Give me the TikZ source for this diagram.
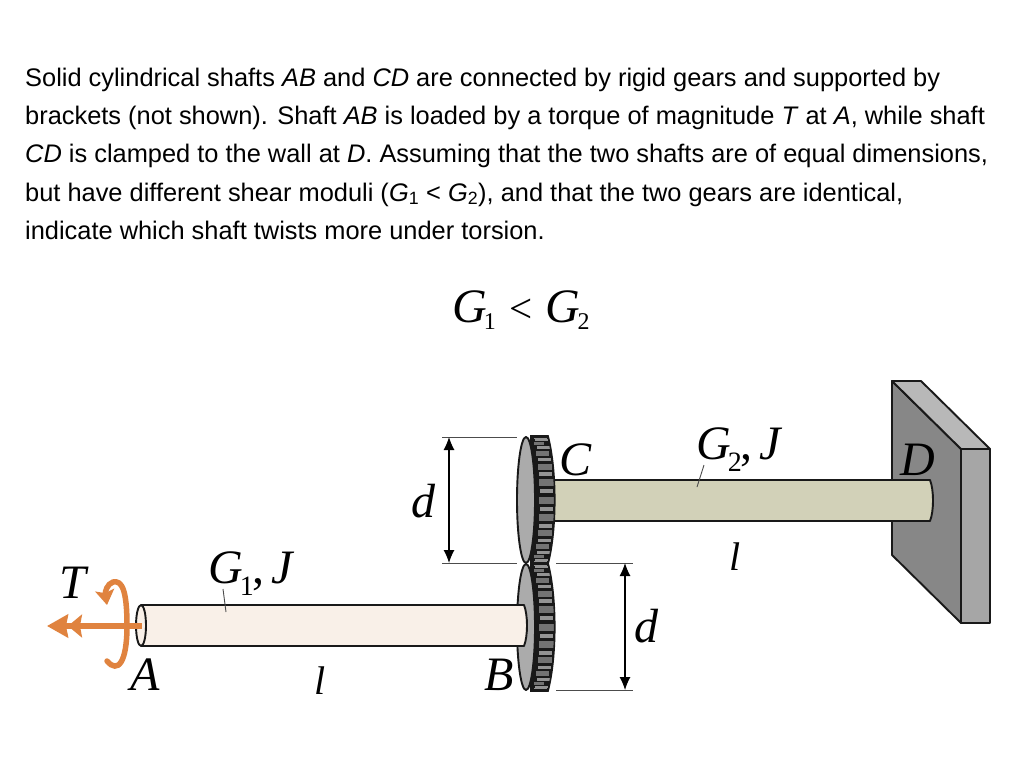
\documentclass[tikz,border=0pt]{standalone}
\usepackage{fontspec}
\setmainfont{Liberation Sans}
\newfontfamily\serifshape{Liberation Serif}
\usetikzlibrary{arrows.meta}

\definecolor{torque}{HTML}{E0833F}
\definecolor{shaftA}{HTML}{F9F0E8}
\definecolor{shaftC}{HTML}{D2D1B8}

% Symbols in the drawing: letter, subscript, subscript size, subscript drop
\newcommand{\sym}[1]{{\serifshape\itshape #1}}
\newcommand{\subsym}[4]{\sym{#1}\kern-3pt{\serifshape\fontsize{#3}{#3}\selectfont\raisebox{-#4}{#2}}}

\tikzset{
	bodytext/.style = {anchor = base west, inner sep = 0, font = \fontsize{25.4}{28}\selectfont},
	symbol/.style = {inner sep = 0, font = \fontsize{48}{48}\selectfont},
	lensymbol/.style = {inner sep = 0, font = \fontsize{40}{40}\selectfont},
	outline/.style = {draw = black!90, line width = 1.9pt, line join = round},
	thinline/.style = {draw = black!70, line width = 0.9pt},
	dimension/.style = {<->, >={Latex[length = 13pt, width = 11pt]}, line width = 1.1pt}
}

\begin{document}
\begin{tikzpicture}[x = 1pt, y = -1pt]

	% Definitions

	\def\gx{526}		% Centre of gear faces
	\def\gC{500}		% Height of gear C
	\def\gB{627}		% Height of gear B
	\def\gr{63}		% Gear radius

	\useasboundingbox (0, 0) rectangle (1024, 762);
	\fill [white] (0, 0) rectangle (1024, 762);

	% Statement

	\node [bodytext] (line1) at (25, 87) {Solid cylindrical shafts \textit{AB} and \textit{CD} are connected by rigid gears and supported by};
	\node [bodytext] (line2) at (25, 125) {brackets (not shown). Shaft \textit{AB} is loaded by a torque of magnitude \textit{T} at \textit{A}, while shaft};
	\node [bodytext] (line3) at (25, 163) {\textit{CD} is clamped to the wall at \textit{D}. Assuming that the two shafts are of equal dimensions,};
	\node [bodytext] (line4) at (25, 201) {but have different shear moduli (\textit{G}\textsubscript{1} < \textit{G}\textsubscript{2}), and that the two gears are identical,};
	\node [bodytext] (line5) at (25, 239) {indicate which shaft twists more under torsion.};

	\node [symbol, anchor = base west] (relation) at (452, 322) {\subsym{G}{1}{24}{7pt}\kern14pt{\serifshape\fontsize{41}{41}\selectfont<}\kern13pt\subsym{G}{2}{24}{7pt}};

	% Wall

	\draw [outline, fill = black!47] (892, 381) -- (961, 449) -- (961, 623) -- (892, 555) -- cycle;
	\draw [outline, fill = black!28] (892, 381) -- (921, 381) -- (990, 449) -- (961, 449) -- cycle;
	\draw [outline, fill = black!35] (961, 449) -- (990, 449) -- (990, 623) -- (961, 623) -- cycle;

	% Shaft CD

	\draw [outline, fill = shaftC] (540, 480) -- (930, 480) .. controls (934, 490) and (934, 511) .. (930, 521) -- (540, 521) -- cycle;

	% Gears

	\foreach \gy in {\gC, \gB} {
		\fill [black!90] ({\gx + 4}, {\gy - \gr - 1}) -- ({\gx + 22}, {\gy - \gr - 1}) .. controls ({\gx + 31}, {\gy - 30}) and ({\gx + 31}, {\gy + 30}) .. ({\gx + 22}, {\gy + \gr + 1}) -- ({\gx + 4}, {\gy + \gr + 1}) -- cycle;
		\foreach \t in {-64, -48, ..., 64} {
			\fill [black!55] ({\gx + 4 + 9 * cos(\t)}, {\gy + \gr * sin(\t) - 3.5 * cos(\t)}) rectangle ++({6 + 10 * cos(\t)}, {7 * cos(\t)});
		}
		\foreach \t in {-78, -72, -56, -40, -24, -8, 8, 24, 40, 56, 72, 78} {
			\fill [black!42] ({\gx + 7 + 7 * cos(\t)}, {\gy + \gr * sin(\t) - 0.5 - 1.6 * cos(\t)}) rectangle ++(13, {1 + 3.2 * cos(\t)});
		}
		\draw [black!90, line width = 1.6pt] ({\gx + 4}, {\gy - \gr - 1}) -- ({\gx + 22}, {\gy - \gr - 1}) .. controls ({\gx + 31}, {\gy - 30}) and ({\gx + 31}, {\gy + 30}) .. ({\gx + 22}, {\gy + \gr + 1}) -- ({\gx + 4}, {\gy + \gr + 1});
		\draw [outline, fill = black!33] (\gx, \gy) circle [x radius = 9, y radius = \gr];
	}

	% Shaft AB

	\draw [outline, fill = shaftA] (141, 605) -- (524, 605) .. controls (528, 615) and (528, 636) .. (524, 646) -- (141, 646) -- cycle;
	\draw [outline, fill = shaftA] (141, 625.5) circle [x radius = 5, y radius = 20.5];

	% Torque

	\coordinate (torque-root) at (142, 626);
	\coordinate (torque-tip) at (47, 626);
	\draw [torque, line width = 5.5pt, {Stealth[length = 21pt, width = 23pt, inset = 2pt]Stealth[length = 14pt, width = 23pt, inset = 2pt]}-] (torque-tip) -- (torque-root);
	\draw [torque, line width = 5.5pt, line cap = round, -{Stealth[length = 15pt, width = 19pt, inset = 3pt]}] (107, 661) .. controls (118, 674) and (127, 662) .. (127, 626) .. controls (127, 590) and (122, 580) .. (113, 582) .. controls (107, 584) and (105, 592) .. (107, 605);

	% Dimensions

	\coordinate (upper-top-l) at (442, 437);
	\coordinate (upper-top-r) at (517, 437);
	\coordinate (upper-bot-l) at (442, 563);
	\coordinate (upper-bot-r) at (517, 563);
	\coordinate (lower-top-l) at (556, 563);
	\coordinate (lower-top-r) at (633, 563);
	\coordinate (lower-bot-l) at (556, 690);
	\coordinate (lower-bot-r) at (633, 690);
	\coordinate (upper-a) at (449, 437);
	\coordinate (upper-b) at (449, 563);
	\coordinate (lower-a) at (625, 563);
	\coordinate (lower-b) at (625, 690);
	\draw [thinline] (upper-top-l) -- (upper-top-r);
	\draw [thinline] (upper-bot-l) -- (upper-bot-r);
	\draw [thinline] (lower-top-l) -- (lower-top-r);
	\draw [thinline] (lower-bot-l) -- (lower-bot-r);
	\draw [dimension] (upper-a) -- (upper-b);
	\draw [dimension] (lower-a) -- (lower-b);

	% Leaders

	\coordinate (lead-a) at (223, 589);
	\coordinate (lead-b) at (226, 612);
	\coordinate (lead-c) at (704, 465);
	\coordinate (lead-d) at (697, 487);
	\draw [thinline] (lead-a) -- (lead-b);
	\draw [thinline] (lead-c) -- (lead-d);

	% Labels

	\node [symbol, anchor = base] (labT) at (73, 598) {\sym{T}};
	\node [symbol, anchor = base] (labA) at (145, 690) {\sym{A}};
	\node [symbol, anchor = base] (labB) at (499, 690) {\sym{B}};
	\node [symbol, anchor = base] (labC) at (575, 475) {\sym{C}};
	\node [symbol, anchor = base] (labD) at (918, 475) {\sym{D}};
	\node [symbol, anchor = base west] (labAB) at (208, 583) {\subsym{G}{1}{28}{12pt}\kern-1pt{\serifshape,}\kern7pt\sym{J}};
	\node [symbol, anchor = base west] (labCD) at (696, 459) {\subsym{G}{2}{28}{12pt}\kern-1pt{\serifshape,}\kern7pt\sym{J}};
	\node [lensymbol, anchor = base] (lenA) at (320, 694) {\sym{l}};
	\node [lensymbol, anchor = base] (lenC) at (735, 570) {\sym{l}};
	\node [symbol, anchor = base] (dimU) at (423, 517) {\sym{d}};
	\node [symbol, anchor = base] (dimL) at (646, 642) {\sym{d}};

\end{tikzpicture}
\end{document}
